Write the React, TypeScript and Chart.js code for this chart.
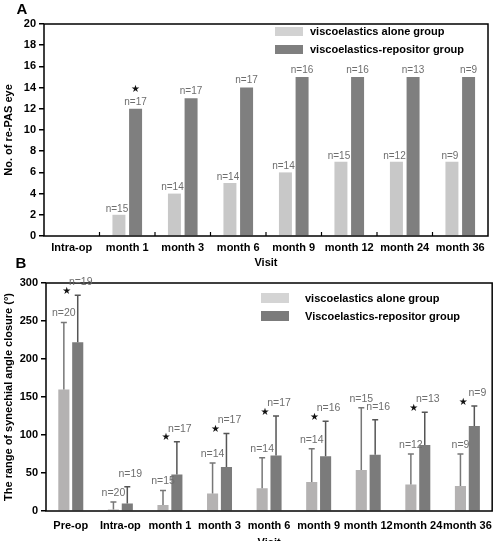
import React, { useEffect, useRef } from "react";
import { Chart, registerables } from "chart.js";

Chart.register(...registerables);

// ---------- Panel A data ----------
const visitsA = ["Intra-op", "month 1", "month 3", "month 6", "month 9", "month 12", "month 24", "month 36"];
const aloneA = [0, 2, 4, 5, 6, 7, 7, 7];
const repositorA = [0, 12, 13, 14, 15, 15, 15, 15];
const aloneNA = ["", "n=15", "n=14", "n=14", "n=14", "n=15", "n=12", "n=9"];
const repositorNA = ["", "n=17", "n=17", "n=17", "n=16", "n=16", "n=13", "n=9"];
const starA = [false, true, false, false, false, false, false, false];
const legendA = ["viscoelastics alone group", "viscoelastics-repositor group"];

// ---------- Panel B data ----------
const visitsB = ["Pre-op", "Intra-op", "month 1", "month 3", "month 6", "month 9", "month 12", "month 24", "month 36"];
const aloneB = [160, 2, 8, 23, 30, 38, 54, 35, 33];
const aloneUpperB = [248, 12, 27, 63, 70, 82, 136, 75, 75];
const repositorB = [222, 10, 48, 58, 73, 72, 74, 87, 112];
const repositorUpperB = [284, 32, 91, 102, 125, 118, 120, 130, 138];
const aloneNB = ["n=20", "n=20", "n=15", "n=14", "n=14", "n=14", "n=15", "n=12", "n=9"];
const repositorNB = ["n=19", "n=19", "n=17", "n=17", "n=17", "n=16", "n=16", "n=13", "n=9"];
const starB = [true, false, true, true, true, true, false, true, true];
const legendB = ["viscoelastics alone group", "Viscoelastics-repositor group"];

const FONT = "'Liberation Sans', Arial, sans-serif";
const LIGHT_A = "#c8c8c8";
const DARK_A = "#7f7f7f";
const LIGHT_B = "#b4b2b2";
const DARK_B = "#7b7b7b";
const LABEL_GRAY = "#6e6e6e";

Chart.defaults.font.family = FONT;

function drawLegend(ctx: CanvasRenderingContext2D, x: number, y: number, boxH: number, textDx: number, rowGap: number, labels: string[], colors: string[]) {
  ctx.font = `bold 11px ${FONT}`;
  ctx.textAlign = "left";
  ctx.textBaseline = "middle";
  labels.forEach((t, i) => {
    const yy = y + i * rowGap;
    ctx.fillStyle = colors[i];
    ctx.fillRect(x, yy, 28, boxH);
    ctx.fillStyle = "#000";
    ctx.fillText(t, x + textDx, yy + boxH / 2 + 0.5);
  });
}

function drawStar(ctx: CanvasRenderingContext2D, x: number, y: number) {
  ctx.font = `10px 'DejaVu Sans', sans-serif`;
  ctx.fillStyle = "#111";
  ctx.textAlign = "center";
  ctx.textBaseline = "middle";
  ctx.fillText("★", x, y);
}

const panelAPlugin = {
  id: "panelA",
  afterDatasetsDraw(chart: any) {
    const { ctx, chartArea: ca, scales } = chart;
    const xs = scales.x;
    ctx.save();
    // frame
    ctx.strokeStyle = "#000";
    ctx.lineWidth = 1.5;
    ctx.strokeRect(ca.left, ca.top, ca.right - ca.left, ca.bottom - ca.top);
    // inward x ticks at category boundaries
    ctx.lineWidth = 1.2;
    for (let i = 1; i < visitsA.length; i++) {
      const bx = (xs.getPixelForValue(i - 1) + xs.getPixelForValue(i)) / 2;
      ctx.beginPath();
      ctx.moveTo(bx, ca.bottom);
      ctx.lineTo(bx, ca.bottom - 4);
      ctx.stroke();
    }
    // n labels
    const m0 = chart.getDatasetMeta(0);
    const m1 = chart.getDatasetMeta(1);
    ctx.font = `10px ${FONT}`;
    ctx.fillStyle = LABEL_GRAY;
    ctx.textAlign = "center";
    ctx.textBaseline = "middle";
    visitsA.forEach((_, i) => {
      const a = m0.data[i];
      const r = m1.data[i];
      if (aloneNA[i]) { ctx.fillStyle = LABEL_GRAY; ctx.font = `10px ${FONT}`; ctx.textAlign = "center"; ctx.textBaseline = "middle"; ctx.fillText(aloneNA[i], a.x - 2, a.y - 6); }
      if (repositorNA[i]) { ctx.fillStyle = LABEL_GRAY; ctx.font = `10px ${FONT}`; ctx.textAlign = "center"; ctx.textBaseline = "middle"; ctx.fillText(repositorNA[i], r.x, r.y - 7); }
      if (starA[i]) drawStar(ctx, r.x, r.y - 19);
    });
    // legend
    drawLegend(ctx, ca.left + 231, ca.top + 3, 9, 35, 18, legendA, ["#d2d2d2", DARK_A]);
    // panel letters
    ctx.font = `bold 15px ${FONT}`;
    ctx.fillStyle = "#000";
    ctx.textAlign = "center";
    ctx.textBaseline = "middle";
    ctx.fillText("A", 22, 10);
    ctx.fillText("B", 21, 264);
    ctx.restore();
  },
};

const panelBPlugin = {
  id: "panelB",
  afterDatasetsDraw(chart: any) {
    const { ctx, chartArea: ca, scales } = chart;
    const ys = scales.y;
    ctx.save();
    ctx.strokeStyle = "#000";
    ctx.lineWidth = 1.5;
    ctx.strokeRect(ca.left, ca.top, ca.right - ca.left, ca.bottom - ca.top);
    const m0 = chart.getDatasetMeta(0);
    const m1 = chart.getDatasetMeta(1);
    const errBar = (x: number, y0: number, y1: number, color: string) => {
      ctx.strokeStyle = color;
      ctx.lineWidth = 1.5;
      ctx.beginPath();
      ctx.moveTo(x, y0);
      ctx.lineTo(x, y1);
      ctx.moveTo(x - 3, y1);
      ctx.lineTo(x + 3, y1);
      ctx.stroke();
    };
    visitsB.forEach((_, i) => {
      const a = m0.data[i];
      const r = m1.data[i];
      const aTop = ys.getPixelForValue(aloneUpperB[i]);
      const rTop = ys.getPixelForValue(repositorUpperB[i]);
      errBar(a.x, a.y, aTop, "#777");
      errBar(r.x, r.y, rTop, "#555");
      ctx.font = `10.5px ${FONT}`;
      ctx.fillStyle = LABEL_GRAY;
      ctx.textAlign = "center";
      ctx.textBaseline = "middle";
      ctx.fillText(aloneNB[i], a.x, aTop - 9);
      ctx.fillText(repositorNB[i], r.x + 3, rTop - 13);
      if (starB[i]) drawStar(ctx, r.x - 11, rTop - 4);
    });
    drawLegend(ctx, ca.left + 215, ca.top + 10, 10, 44, 18, legendB, ["#d4d4d4", DARK_B]);
    ctx.restore();
  },
};

function baseOptions(yMax: number, yStep: number, yTitle: string, yWidth: number, xHeight: number, pad: any, tickPad: number, titlePadBottom: number): any {
  return {
    responsive: false,
    animation: false,
    devicePixelRatio: 1,
    layout: { padding: pad },
    plugins: { legend: { display: false }, tooltip: { enabled: false } },
    scales: {
      x: {
        grid: { display: false, drawTicks: false },
        border: { display: false },
        ticks: { color: "#000", font: { family: FONT, size: 11, weight: "bold" }, padding: tickPad, maxRotation: 0, autoSkip: false },
        title: { display: true, text: "Visit", color: "#000", font: { family: FONT, size: 11, weight: "bold" }, padding: { top: 0, bottom: titlePadBottom } },
        afterFit: (s: any) => { s.height = xHeight; },
      },
      y: {
        min: 0,
        max: yMax,
        grid: { display: true, drawOnChartArea: false, drawTicks: true, tickLength: 5, color: "#000", lineWidth: 1.5 },
        border: { display: false },
        ticks: { stepSize: yStep, color: "#000", font: { family: FONT, size: 11, weight: "bold" }, padding: 3 },
        title: { display: true, text: yTitle, color: "#000", font: { family: FONT, size: 11, weight: "bold" }, padding: { top: 2, bottom: 0 } },
        afterFit: (s: any) => { s.width = yWidth; },
      },
    },
  };
}

export default function App() {
  const refA = useRef<HTMLCanvasElement>(null);
  const refB = useRef<HTMLCanvasElement>(null);

  useEffect(() => {
    const chartA = new Chart(refA.current as HTMLCanvasElement, {
      type: "bar",
      data: {
        labels: visitsA,
        datasets: [
          { label: legendA[0], data: aloneA, backgroundColor: LIGHT_A, categoryPercentage: 0.6, barPercentage: 0.78 },
          { label: legendA[1], data: repositorA, backgroundColor: DARK_A, categoryPercentage: 0.6, barPercentage: 0.78 },
        ],
      },
      options: baseOptions(20, 2, "No. of re-PAS eye", 44, 34, { top: 24, right: 12, left: 0, bottom: 0 }, 5, 0),
      plugins: [panelAPlugin],
    } as any);

    const chartB = new Chart(refB.current as HTMLCanvasElement, {
      type: "bar",
      data: {
        labels: visitsB,
        datasets: [
          { label: legendB[0], data: aloneB, backgroundColor: LIGHT_B, categoryPercentage: 0.56, barPercentage: 0.8 },
          { label: legendB[1], data: repositorB, backgroundColor: DARK_B, categoryPercentage: 0.56, barPercentage: 0.8 },
        ],
      },
      options: baseOptions(300, 50, "The range of synechial angle closure (°)", 46, 39, { top: 13, right: 3, left: 0, bottom: 0 }, 8, 0),
      plugins: [panelBPlugin],
    } as any);

    return () => {
      chartA.destroy();
      chartB.destroy();
    };
  }, []);

  return (
    <div style={{ position: "absolute", left: 0, top: 0, width: 500, height: 541, overflow: "hidden", background: "#fff" }}>
      <canvas ref={refA} width={500} height={270} style={{ position: "absolute", left: 0, top: 0 }} />
      <canvas ref={refB} width={500} height={280} style={{ position: "absolute", left: 0, top: 270 }} />
    </div>
  );
}
